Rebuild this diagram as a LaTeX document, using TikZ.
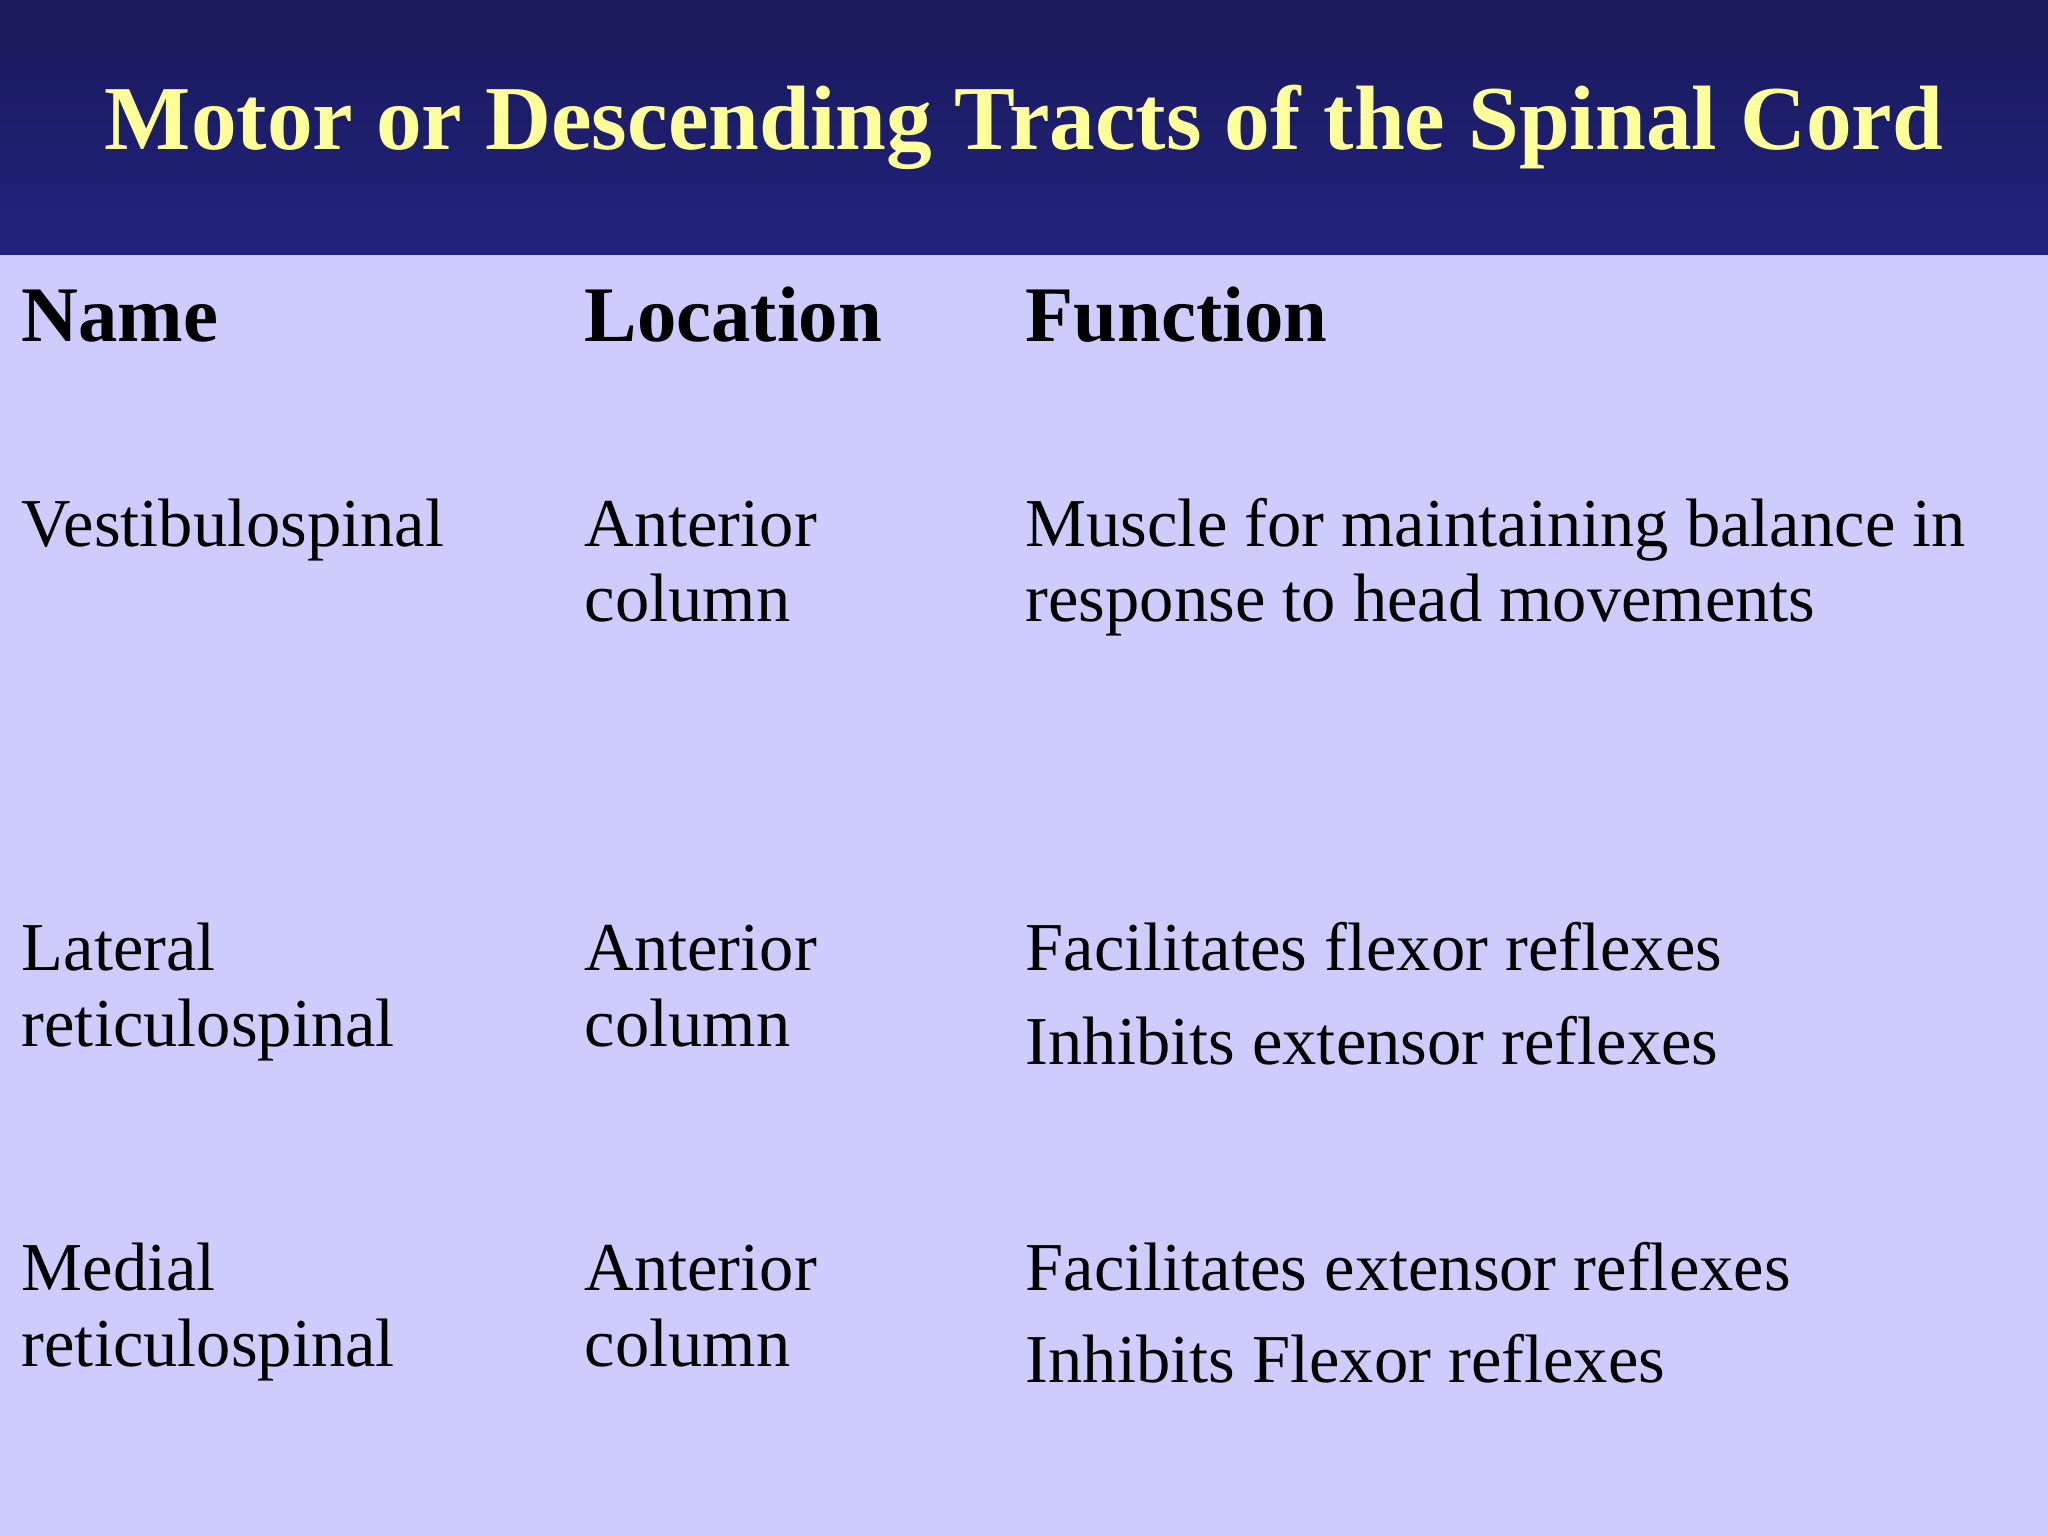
\documentclass[tikz,border=0pt]{standalone}
\usepackage{fontspec}
\setmainfont{Liberation Serif}
\definecolor{bandtop}{HTML}{191A5A}
\definecolor{bandbot}{HTML}{22227E}
\definecolor{bodybg}{HTML}{CDCCFC}
\definecolor{titlefg}{HTML}{FFFF99}
\begin{document}
\begin{tikzpicture}[
  head/.style={anchor=base west, inner sep=0pt, font=\fontsize{22.4}{27}\selectfont\bfseries},
  cell/.style={anchor=base west, inner sep=0pt, font=\fontsize{19.5}{24}\selectfont}]
\useasboundingbox (0,0) rectangle (20.48,-15.36);
\fill[bodybg] (0,0) rectangle (20.48,-15.36);
\shade[top color=bandtop, bottom color=bandbot] (0,0) rectangle (20.48,-2.55);
\node[anchor=base, inner sep=0pt, text=titlefg, font=\fontsize{26}{31}\selectfont\bfseries] (title) at (10.24,-1.5) {Motor or Descending Tracts of the Spinal Cord};
% headers
\node[head] (hname) at (0.21,-3.42) {Name};
\node[head] (hloc) at (5.84,-3.42) {Location};
\node[head] (hfun) at (10.25,-3.42) {Function};
% row 1
\node[cell] (n1) at (0.21,-5.46) {Vestibulospinal};
\node[cell] (l1a) at (5.84,-5.46) {Anterior};
\node[cell] (l1b) at (5.84,-6.22) {column};
\node[cell] (f1a) at (10.25,-5.46) {Muscle for maintaining balance in};
\node[cell] (f1b) at (10.25,-6.22) {response to head movements};
% row 2
\node[cell] (n2a) at (0.21,-9.70) {Lateral};
\node[cell] (n2b) at (0.21,-10.46) {reticulospinal};
\node[cell] (l2a) at (5.84,-9.70) {Anterior};
\node[cell] (l2b) at (5.84,-10.46) {column};
\node[cell] (f2a) at (10.25,-9.70) {Facilitates flexor reflexes};
\node[cell] (f2b) at (10.25,-10.64) {Inhibits extensor reflexes};
% row 3
\node[cell] (n3a) at (0.21,-12.90) {Medial};
\node[cell] (n3b) at (0.21,-13.66) {reticulospinal};
\node[cell] (l3a) at (5.84,-12.90) {Anterior};
\node[cell] (l3b) at (5.84,-13.66) {column};
\node[cell] (f3a) at (10.25,-12.90) {Facilitates extensor reflexes};
\node[cell] (f3b) at (10.25,-13.82) {Inhibits Flexor reflexes};
\end{tikzpicture}
\end{document}
